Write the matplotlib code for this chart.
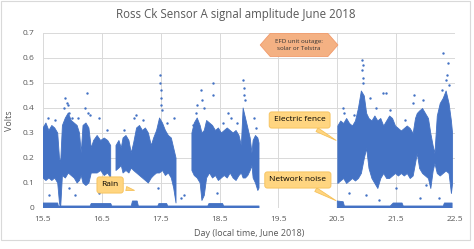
import numpy as np
import matplotlib
matplotlib.use("Agg")
import matplotlib.pyplot as plt
from matplotlib.patches import Rectangle, Polygon

plt.rcParams['font.family'] = ['Open Sans', 'DejaVu Sans']

# main signal band, first block (before the outage)
days_a = [15.50, 15.55, 15.60, 15.65, 15.70, 15.75, 15.78, 15.80, 15.83, 15.88,
          15.93, 15.98, 16.03, 16.08, 16.12, 16.15, 16.18, 16.23, 16.28, 16.32,
          16.36, 16.42, 16.48, 16.54, 16.60, 16.65, 16.68, 16.71, 16.74, 16.79,
          16.83, 16.86, 16.91, 16.96, 17.00, 17.04, 17.09, 17.14, 17.19, 17.24,
          17.29, 17.34, 17.38, 17.43, 17.48, 17.53, 17.58, 17.63, 17.68, 17.72,
          17.76, 17.80, 18.02, 18.03, 18.07, 18.12, 18.17, 18.20, 18.24, 18.28,
          18.33, 18.38, 18.43, 18.48, 18.53, 18.58, 18.63, 18.68, 18.73, 18.78,
          18.83, 18.87, 18.90, 18.94, 18.98, 19.02, 19.05, 19.07, 19.11, 19.15, 19.17]
hi_a = [0.32, 0.34, 0.31, 0.33, 0.32, 0.30, 0.20, 0.18, 0.33, 0.36,
        0.38, 0.35, 0.34, 0.33, 0.30, 0.22, 0.33, 0.34, 0.32, 0.24,
        0.27, 0.29, 0.27, 0.28, 0.27, 0.25, np.nan, np.nan, 0.25, 0.27,
        0.24, 0.28, 0.29, 0.27, 0.22, 0.26, 0.32, 0.33, 0.31, 0.32,
        0.30, 0.25, 0.28, 0.31, 0.36, 0.34, 0.31, 0.29, 0.28, 0.24,
        0.20, np.nan, np.nan, 0.30, 0.34, 0.36, 0.33, 0.30, 0.31, 0.35,
        0.34, 0.33, 0.31, 0.32, 0.30, 0.31, 0.32, 0.31, 0.30, 0.31,
        0.29, 0.25, 0.40, 0.36, 0.32, 0.28, 0.22, 0.27, 0.29, 0.28, 0.26]
lo_a = [0.12, 0.11, 0.12, 0.11, 0.12, 0.10, 0.02, 0.00, 0.13, 0.12,
        0.14, 0.13, 0.12, 0.10, 0.11, 0.13, 0.10, 0.09, 0.10, 0.14,
        0.14, 0.14, 0.15, 0.13, 0.14, 0.12, np.nan, np.nan, 0.15, 0.16,
        0.17, 0.14, 0.15, 0.14, 0.16, 0.15, 0.14, 0.13, 0.12, 0.11,
        0.10, 0.12, 0.13, 0.14, 0.14, 0.15, 0.13, 0.14, 0.12, 0.08,
        0.02, np.nan, np.nan, 0.15, 0.13, 0.12, 0.10, 0.03, 0.05, 0.12,
        0.14, 0.12, 0.13, 0.11, 0.12, 0.13, 0.12, 0.14, 0.12, 0.11,
        0.13, 0.14, 0.12, 0.12, 0.13, 0.15, 0.17, 0.12, 0.10, 0.07, 0.08]

# main signal band, second block (after the outage)
days_b = [20.50, 20.55, 20.60, 20.65, 20.70, 20.75, 20.80, 20.85, 20.90, 20.95,
          20.99, 21.03, 21.08, 21.13, 21.18, 21.23, 21.28, 21.33, 21.38, 21.43,
          21.48, 21.53, 21.58, 21.63, 21.68, 21.73, 21.78, 21.82, 21.85, 21.89,
          21.94, 21.99, 22.04, 22.08, 22.12, 22.15, 22.19, 22.24, 22.29, 22.34,
          22.39, 22.43, 22.45]
hi_b = [0.33, 0.35, 0.34, 0.36, 0.34, 0.33, 0.35, 0.40, 0.47, 0.45,
        0.38, 0.36, 0.35, 0.37, 0.35, 0.36, 0.33, 0.35, 0.37, 0.36,
        0.33, 0.32, 0.31, 0.32, 0.33, 0.32, 0.30, 0.36, 0.38, 0.39,
        0.40, 0.38, 0.36, 0.30, 0.25, 0.22, 0.37, 0.42, 0.44, 0.47,
        0.42, 0.35, 0.30]
lo_b = [0.10, 0.11, 0.12, 0.10, 0.11, 0.12, 0.11, 0.12, 0.14, 0.20,
        0.24, 0.16, 0.12, 0.10, 0.08, 0.12, 0.14, 0.12, 0.12, 0.13,
        0.14, 0.13, 0.14, 0.13, 0.14, 0.12, 0.13, 0.18, 0.22, 0.16,
        0.14, 0.13, 0.12, 0.08, 0.15, 0.18, 0.14, 0.13, 0.14, 0.15,
        0.14, 0.06, 0.10]

# network noise floor near 0 V
base_days = [15.50, 15.75, 15.76, 16.30, 16.32, 16.65, 16.67, 17.00, 17.02, 17.10,
             17.12, 17.45, 17.47, 17.60, 17.62, 18.30, 18.32, 18.55, 18.57, 19.17,
             np.nan, 20.50, 20.60, 20.62, 21.40, 21.45, 21.60, 21.62, 22.30, 22.32, 22.45]
base_hi = [0.020, 0.020, 0.008, 0.008, 0.018, 0.018, 0.008, 0.008, 0.028, 0.028,
           0.008, 0.008, 0.018, 0.018, 0.008, 0.008, 0.018, 0.018, 0.008, 0.008,
           np.nan, 0.028, 0.025, 0.008, 0.008, 0.020, 0.020, 0.008, 0.008, 0.020, 0.020]

# isolated points above / below the band
spike_days = [15.86, 15.88, 15.90, 15.92, 15.95, 16.00, 16.25, 16.22, 16.27, 16.30,
              16.45, 17.08, 17.05, 17.49, 17.49, 17.50, 17.50, 17.51, 17.52, 17.72,
              18.10, 18.12, 18.20, 18.18, 18.23, 18.39, 18.38, 18.65, 18.70, 18.90,
              18.91, 18.92, 18.93, 19.08, 20.59, 20.92, 20.93, 20.92, 20.94, 20.93,
              21.28, 21.33, 21.05, 21.78, 21.80, 22.30, 22.38, 22.36, 22.34, 22.40,
              15.60, 15.95, 16.45, 17.45, 17.90, 18.45, 20.70, 20.98, 21.20, 21.50,
              21.90, 22.00, 22.22, 16.05, 17.85, 15.58, 15.70, 16.10, 16.58, 16.88,
              17.20, 17.60, 18.05, 18.55, 18.80, 19.12, 20.62, 20.78, 21.15, 21.40,
              21.65, 21.95, 22.27]
spike_vals = [0.40, 0.44, 0.42, 0.41, 0.38, 0.36, 0.46, 0.40, 0.38, 0.37,
              0.36, 0.37, 0.36, 0.53, 0.50, 0.47, 0.44, 0.41, 0.39, 0.36,
              0.38, 0.41, 0.43, 0.47, 0.40, 0.50, 0.45, 0.38, 0.36, 0.51,
              0.48, 0.45, 0.43, 0.36, 0.40, 0.59, 0.57, 0.55, 0.52, 0.50,
              0.46, 0.46, 0.44, 0.42, 0.45, 0.62, 0.58, 0.53, 0.51, 0.49,
              0.05, 0.08, 0.06, 0.08, 0.05, 0.06, 0.06, 0.05, 0.03, 0.08,
              0.04, 0.09, 0.04, 0.05, 0.04, 0.36, 0.35, 0.36, 0.31, 0.31,
              0.35, 0.34, 0.33, 0.34, 0.34, 0.32, 0.38, 0.37, 0.40, 0.39,
              0.35, 0.43, 0.47]

x_ticks = [15.5, 16.5, 17.5, 18.5, 19.5, 20.5, 21.5, 22.5]
y_ticks = [0, 0.1, 0.2, 0.3, 0.4, 0.5, 0.6, 0.7]

blue = "#4472C4"
grey = "#595959"

fig = plt.figure(figsize=(4.74, 2.49), dpi=100)
ax = fig.add_axes([0.0907, 0.1647, 0.8693, 0.7028])

ax.fill_between(days_a, lo_a, hi_a, color=blue, lw=0.6)
ax.fill_between(days_b, lo_b, hi_b, color=blue, lw=0.6)
ax.fill_between(base_days, 0, base_hi, color=blue, lw=0.6)
ax.scatter(spike_days, spike_vals, s=3, color=blue, lw=0)

ax.set_xlim(15.5, 22.5)
ax.set_ylim(0, 0.7)
ax.set_xticks(x_ticks)
ax.set_xticklabels([str(t) for t in x_ticks])
ax.set_yticks(y_ticks)
ax.set_yticklabels(["0"] + [str(t) for t in y_ticks[1:]])
ax.tick_params(length=0, labelsize=6, labelcolor=grey, pad=6)
ax.grid(True, color="#D9D9D9", lw=0.7)
ax.set_axisbelow(True)
for s in ax.spines.values():
    s.set_visible(False)

fig.text(0.498, 0.94, "Ross Ck Sensor A signal amplitude June 2018",
         ha="center", va="center", fontsize=8.3, color=grey)
ax.set_ylabel("Volts", fontsize=6.5, color=grey, labelpad=6)
ax.set_xlabel("Day (local time, June 2018)", fontsize=6.5, color=grey, labelpad=4)

# callouts
callout = dict(boxstyle="round,pad=0.55,rounding_size=0.3", fc="#FFD580", ec="#F5C15A", lw=0.6)
arrow = dict(arrowstyle="wedge,tail_width=0.5", fc="#FFD580", ec="#F5C15A", lw=0.6)
ax.annotate("Electric fence", xy=(20.52, 0.265), xytext=(19.86, 0.352),
            fontsize=6, ha="center", va="center", bbox=callout, arrowprops=arrow)
ax.annotate("Network noise", xy=(20.52, 0.024), xytext=(19.83, 0.112),
            fontsize=6, ha="center", va="center", bbox=callout, arrowprops=arrow)
ax.annotate("Rain", xy=(17.1, 0.068), xytext=(16.64, 0.092),
            fontsize=6, ha="center", va="center", bbox=callout, arrowprops=arrow)

# outage hexagon
hx, hy, hw, hh = 19.85, 0.652, 0.66, 0.046
hexagon = Polygon([(hx - hw, hy), (hx - hw + 0.17, hy + hh), (hx + hw - 0.17, hy + hh),
                   (hx + hw, hy), (hx + hw - 0.17, hy - hh), (hx - hw + 0.17, hy - hh)],
                  closed=True, fc="#F4B183", ec="#F19A6B", lw=0.6, clip_on=False, zorder=5)
ax.add_patch(hexagon)
ax.text(hx, hy, "EFD unit outage:\nsolar or Telstra", fontsize=4.5, ha="center", va="center",
        color="#333333", zorder=6, linespacing=1.4)

# outer chart frame
fig.patches.append(Rectangle((0.003, 0.035), 0.988, 0.96, transform=fig.transFigure,
                             fill=False, ec="#D9D9D9", lw=0.8))

fig.savefig("out.png", dpi=100)
